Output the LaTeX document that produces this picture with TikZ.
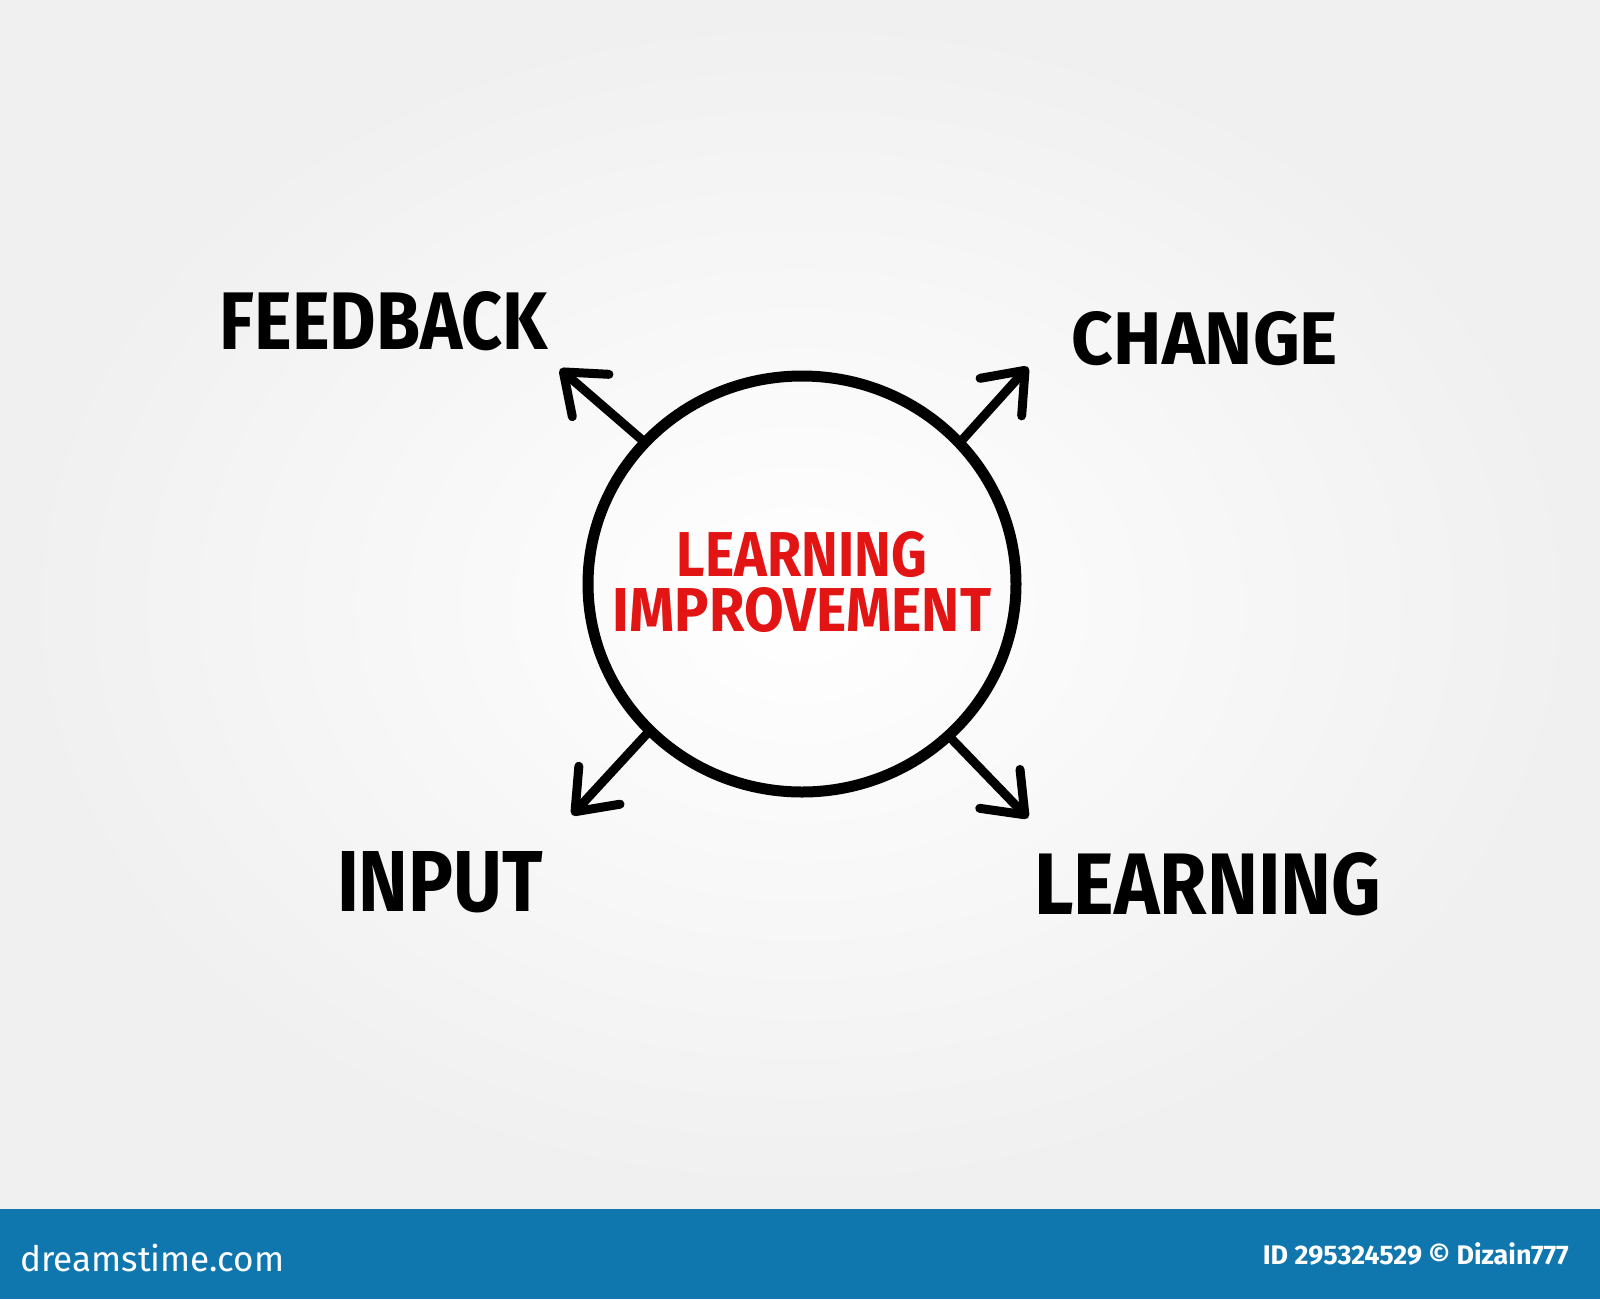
\documentclass[tikz,border=0pt]{standalone}
\usepackage{fontspec}
\usepackage{xcolor}
\usepackage{graphicx}
\usetikzlibrary{arrows.meta,shapes.geometric}
\setmainfont{Fira Sans}
\definecolor{barblue}{RGB}{15,119,174}
\definecolor{markred}{RGB}{226,20,20}
\tikzset{
  word/.style={inner sep=0pt, font=\bfseries},
  spoke/.style={line width=9pt, line cap=round, -{Straight Barb[length=36pt,width=56pt,round]}},
}

\begin{document}
\begin{tikzpicture}[x=1pt,y=-1pt]
\useasboundingbox (0,0) rectangle (1600,1299);
\shade [inner color=white, outer color=black!6] (0,0) rectangle (1600,1209);
\fill [barblue] (0,1209) rectangle (1600,1299);
\node [ellipse, draw, line width=11pt, minimum width=428pt, minimum height=416pt, inner sep=0pt] (c) at (802,584) {};
\node [word, text=markred, align=center] (ctext) at (802,582)
  {\resizebox{250pt}{45pt}{LEARNING}\\[9pt]\resizebox{378pt}{44pt}{IMPROVEMENT}};
\node [word] (fb) at (384,321) {\resizebox{328pt}{58pt}{FEEDBACK}};
\node [word] (ch) at (1205,339) {\resizebox{266pt}{53pt}{CHANGE}};
\node [word] (in) at (440,882) {\resizebox{206pt}{60pt}{INPUT}};
\node [word] (ln) at (1208,884) {\resizebox{347pt}{62pt}{LEARNING}};
\coordinate (fbtip) at (560,369);
\coordinate (chtip) at (1028,367);
\coordinate (intip) at (572,815);
\coordinate (lntip) at (1028,818);
\draw [spoke] (c.138) -- (fbtip);
\draw [spoke] (c.42) -- (chtip);
\draw [spoke] (c.224) -- (intip);
\draw [spoke] (c.314) -- (lntip);
\node [inner sep=0pt, text=white, anchor=west] (site) at (20,1258) {\resizebox{264pt}{!}{dreamstime.com}};
\node [inner sep=0pt, text=white, anchor=east, font=\bfseries] (id) at (1569,1254) {\resizebox{306pt}{!}{ID 295324529 © Dizain777}};
\end{tikzpicture}
\end{document}
